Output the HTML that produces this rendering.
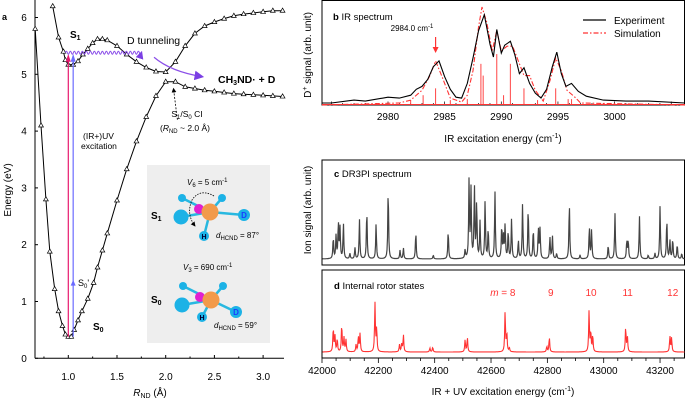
<!DOCTYPE html>
<html><head><meta charset="utf-8"><style>
body{margin:0;background:#fff}
svg{display:block;font-family:"Liberation Sans",Arial,sans-serif}
</style></head><body>
<svg id="fig" width="685" height="400" viewBox="0 0 685 400">
<defs>
<marker id="ahP" markerWidth="8" markerHeight="8" refX="6" refY="4" orient="auto"><path d="M0,0 L8,4 L0,8 z" fill="#7b3fe4"/></marker>
<marker id="ahK" markerWidth="6" markerHeight="6" refX="5" refY="3" orient="auto"><path d="M0,0 L6,3 L0,6 z" fill="#000"/></marker>
</defs>
<g id="pa"></g>
<g id="pb"></g>
<g id="pc"></g>
<g id="pd"></g>
</svg>
<script>
// ---- Panel a data ----
const s0R=[0.66,0.72,0.77,0.81,0.86,0.9,0.94,0.97,1.0,1.03,1.06,1.1,1.14,1.2,1.26,1.3,1.35,1.4,1.5,1.6,1.7,1.8,1.9,2.0,2.1,2.2,2.3,2.4,2.5,2.6,2.7,2.8,2.9,3.0,3.1,3.2];
const s0E=[5.8,4.1,2.8,1.88,1.22,0.83,0.57,0.42,0.38,0.38,0.5,0.67,0.83,1.05,1.33,1.6,1.9,2.2,2.78,3.33,3.82,4.25,4.62,4.87,4.87,4.78,4.75,4.72,4.7,4.68,4.66,4.65,4.64,4.63,4.62,4.61];
const s1R=[0.84,0.9,0.95,0.97,1.0,1.05,1.1,1.15,1.2,1.25,1.3,1.35,1.4,1.5,1.6,1.7,1.8,1.9,2.0,2.1,2.2,2.3,2.4,2.5,2.6,2.7,2.8,2.9,3.0,3.1,3.2];
const s1E=[6.2,5.65,5.4,5.25,5.17,5.17,5.23,5.35,5.45,5.55,5.62,5.62,5.6,5.5,5.35,5.22,5.12,5.05,5.04,5.22,5.5,5.72,5.85,5.92,5.98,6.03,6.06,6.08,6.1,6.12,6.12];
const aXTicks=[1.0,1.5,2.0,2.5,3.0];
const aYTicks=[0,1,2,3,4,5,6];
// ---- Panel b data ----
const expX=[2974.2,2975,2977,2978,2980,2981,2982,2982.5,2983,2983.5,2984,2984.5,2985,2985.5,2986,2986.5,2987,2987.5,2988,2988.5,2989,2989.3,2989.6,2990,2990.3,2990.8,2991.2,2991.6,2992,2992.5,2993,2993.5,2994,2994.5,2994.9,2995.3,2995.7,2996.2,2996.8,2997.5,2999,3001,3003,3006.2];
const expY=[0.02,0.02,0.05,0.04,0.08,0.07,0.1,0.16,0.19,0.26,0.39,0.45,0.29,0.16,0.08,0.07,0.22,0.48,0.76,0.92,0.62,0.49,0.77,0.53,0.61,0.65,0.51,0.32,0.38,0.22,0.12,0.07,0.16,0.39,0.54,0.32,0.19,0.22,0.14,0.09,0.05,0.04,0.04,0.02];
const simX=[2974.2,2981,2982,2983,2983.7,2984.2,2984.8,2985.5,2986.5,2987,2987.5,2988,2988.3,2988.7,2989.2,2989.6,2990,2990.5,2991,2991.5,2992,2992.5,2993,2993.7,2994.3,2994.8,2995.3,2995.8,2996.5,2997,3006.2];
const simY=[0,0.02,0.05,0.15,0.3,0.45,0.28,0.07,0.03,0.1,0.35,0.8,1.0,0.85,0.55,0.76,0.55,0.6,0.6,0.45,0.3,0.3,0.15,0.04,0.25,0.48,0.35,0.15,0.08,0.02,0];
const stickX=[2982,2983.1,2984.2,2985.5,2987,2988.2,2988.4,2989.6,2990.2,2990.8,2992,2993.2,2994.8,2995.9,2996.2,2999];
const stickY=[0.05,0.1,0.17,0.05,0.06,0.42,0.3,0.52,0.1,0.42,0.17,0.05,0.17,0.06,0.06,0.02];
const bXTicks=[2980,2985,2990,2995,3000];
// ---- Panel c data ----
const cPos=[42040,42050,42058,42064,42076,42099,42117,42133,42159,42192,42235,42277,42289,42333,42395,42448,42508,42522,42529,42541,42549,42561,42579,42590,42614,42638,42644,42650,42661,42673,42697,42712,42732,42750,42768,42774,42809,42818,42833,42878,42916,42949,42957,43016,43040,43082,43087,43127,43158,43182,43200,43224,43235,43245,43261,43277];
const cHt=[.28,.30,.47,.39,.45,.07,.14,.50,.64,.45,.92,.11,.14,.35,.05,.37,.11,.99,.87,.92,.73,.47,.75,.39,.85,.43,.28,.43,.36,.51,.24,.70,.67,.39,.40,.38,.28,.29,.07,.73,.05,.42,.37,.18,.58,.24,.24,.54,.05,.07,.67,.52,.24,.26,.19,.07];
// ---- Panel d data ----
const dPos=[42040,42046,42054,42070,42078,42085,42121,42129,42135,42188,42194,42275,42283,42289,42383,42393,42508,42516,42650,42656,42665,42798,42807,42948,42954,42961,43078,43084,43235,43241];
const dHt=[.51,.32,.27,.58,.29,.25,.15,.32,.37,1.0,.49,.15,.18,.35,.08,.10,.25,.30,.83,.39,.08,.12,.31,.83,.42,.35,.52,.32,.32,.29];
const mLabels=["8","9","10","11","12"];
const mPos=[42655,42812,42955,43085,43245];
const cdXTicks=[42000,42200,42400,42600,42800,43000,43200];

const NS="http://www.w3.org/2000/svg";
function mk(parent,tag,attrs,text){const e=document.createElementNS(NS,tag);for(const k in attrs)e.setAttribute(k,attrs[k]);if(text!==undefined)e.textContent=text;parent.appendChild(e);return e;}

// ===== Panel a =====
const pa=document.getElementById('pa');
const ax=r=>68.3+(r-1)*97.4, ay=e=>358.3-e*56.8;
let l=mk(pa,'line',{x1:35,y1:0,x2:35,y2:358.3,stroke:'#000','stroke-width':1});

l=mk(pa,'line',{x1:35,y1:358.3,x2:284,y2:358.3,stroke:'#000','stroke-width':1});

for(let r=0.75;r<=3.2;r+=0.25){const t=mk(pa,'line',{x1:ax(r),x2:ax(r),y1:358.3,y2:Math.abs(r*2-Math.round(r*2))<0.01?355:356.5,stroke:'#000'});}
aXTicks.forEach(v=>{const t=mk(pa,'text',{x:ax(v),y:380,'font-size':10,'text-anchor':'middle'},v.toFixed(1));});
aYTicks.forEach(v=>{mk(pa,'line',{x1:35,x2:38,y1:ay(v),y2:ay(v),stroke:'#000'});const t=mk(pa,'text',{x:24,y:ay(v)+3.5,'font-size':10,'text-anchor':'middle'},String(v));});
let t=mk(pa,'text',{x:11,y:190,'font-size':10,'text-anchor':'middle',transform:'rotate(-90 11 190)'},'Energy (eV)');
t=mk(pa,'text',{x:150,y:396,'font-size':10,'text-anchor':'middle'});t.innerHTML='<tspan font-style="italic">R</tspan><tspan font-size="7" dy="2">ND</tspan><tspan dy="-2"> (Å)</tspan>';
t=mk(pa,'text',{x:2,y:20,'font-size':9,'font-weight':'bold'},'a');
// inset box
let ib=mk(pa,'rect',{x:147,y:165,width:123,height:178,fill:'#eeeeee'});
function curve(R,E,name){const d=R.map((r,i)=>(i?'L':'M')+ax(r).toFixed(1)+','+ay(E[i]).toFixed(1)).join('');const p=mk(pa,'path',{d:d,fill:'none',stroke:'#000','stroke-width':1});
R.forEach((r,i)=>{const x=ax(r),y=ay(E[i]);const m=mk(pa,'path',{d:`M${x},${y-2.6}L${x+2.4},${y+1.6}L${x-2.4},${y+1.6}z`,fill:'#fff',stroke:'#000','stroke-width':0.7});});}
curve(s0R,s0E,'s0-curve');curve(s1R,s1E,'s1-curve');
// excitation arrows
l=mk(pa,'line',{x1:ax(1.0),x2:ax(1.0),y1:ay(0.38),y2:ay(5.3),stroke:'#e8186e','stroke-width':1.2});
mk(pa,'path',{d:`M${ax(1.0)-2.5},${ay(5.22)}L${ax(1.0)},${ay(5.36)}L${ax(1.0)+2.5},${ay(5.22)}z`,fill:'#e8186e'});
l=mk(pa,'line',{x1:ax(1.05),x2:ax(1.05),y1:ay(0.38),y2:ay(5.3),stroke:'#6b6bff','stroke-width':1.2});
mk(pa,'path',{d:`M${ax(1.05)-2.5},${ay(5.22)}L${ax(1.05)},${ay(5.36)}L${ax(1.05)+2.5},${ay(5.22)}z`,fill:'#6b6bff'});
mk(pa,'path',{d:`M${ax(1.05)-2.5},${ay(1.28)}L${ax(1.05)},${ay(1.38)}L${ax(1.05)+2.5},${ay(1.28)}z`,fill:'#6b6bff'});
// wavy tunneling
let wd='M'+ax(0.97)+','+ay(5.38);for(let x=ax(0.97);x<ax(1.72);x+=4){wd+=` q1,-3 2,0 q1,3 2,0`;}
l=mk(pa,'path',{d:wd,fill:'none',stroke:'#8b4fe8','stroke-width':1,'marker-end':'url(#ahP)'});
l=mk(pa,'path',{d:`M${ax(1.88)},${ay(5.3)} Q${ax(2.05)},${ay(5.05)} ${ax(2.37)},${ay(4.96)}`,fill:'none',stroke:'#8b4fe8','stroke-width':1.2,'marker-end':'url(#ahP)'});
l=mk(pa,'path',{d:`M${ax(2.12)},${ay(4.2)} L${ax(2.08)},${ay(4.75)}`,fill:'none',stroke:'#000','stroke-width':0.8,'stroke-dasharray':'2,1.5','marker-end':'url(#ahK)'});
function txt(p,x,y,html,name,extra){const e=mk(p,'text',Object.assign({x:x,y:y,'font-size':10},extra||{}));e.innerHTML=html;return e;}
txt(pa,70,38,'S<tspan font-size="7" dy="2">1</tspan>','s1-label',{'font-weight':'bold'});
txt(pa,127,44,'D tunneling','d-tunneling-label',{'font-size':10.5});
txt(pa,218,83,'CH<tspan font-size="7" dy="2">3</tspan><tspan dy="-2">ND· + D</tspan>','products-label',{'font-weight':'bold','font-size':10.5});
txt(pa,187,117,'S<tspan font-size="6" dy="2">1</tspan><tspan dy="-2">/S</tspan><tspan font-size="6" dy="2">0</tspan><tspan dy="-2"> CI</tspan>','ci-label',{'font-size':8.5,'text-anchor':'middle'});
txt(pa,185,131,'(<tspan font-style="italic">R</tspan><tspan font-size="6" dy="2">ND</tspan><tspan dy="-2"> ~ 2.0 Å)</tspan>','ci-distance-label',{'font-size':8.5,'text-anchor':'middle'});
txt(pa,83,139,'(IR+)UV','excitation-label-1',{'font-size':8.5});
txt(pa,81,149,'excitation','excitation-label-2',{'font-size':8.5});
txt(pa,78,286,"S<tspan font-size='6' dy='2'>0</tspan><tspan dy='-2'>'</tspan>",'s0-prime-label',{'font-size':9});
txt(pa,93,330,'S<tspan font-size="7" dy="2">0</tspan>','s0-label',{'font-weight':'bold'});
// inset molecules
txt(pa,187,185,'<tspan font-style="italic">V</tspan><tspan font-size="6" dy="2">6</tspan><tspan dy="-2"> = 5 cm</tspan><tspan font-size="6" dy="-3">-1</tspan>','v6-label',{'font-size':8});
txt(pa,151,219,'S<tspan font-size="7" dy="2">1</tspan>','inset-s1-label',{'font-weight':'bold'});
txt(pa,216,238,'<tspan font-style="italic">d</tspan><tspan font-size="6" dy="2">HCND</tspan><tspan dy="-2"> = 87°</tspan>','dihedral-s1-label',{'font-size':8});
txt(pa,183,270,'<tspan font-style="italic">V</tspan><tspan font-size="6" dy="2">3</tspan><tspan dy="-2"> = 690 cm</tspan><tspan font-size="6" dy="-3">-1</tspan>','v3-label',{'font-size':8});
txt(pa,151,303,'S<tspan font-size="7" dy="2">0</tspan>','inset-s0-label',{'font-weight':'bold'});
txt(pa,214,328,'<tspan font-style="italic">d</tspan><tspan font-size="6" dy="2">HCND</tspan><tspan dy="-2"> = 59°</tspan>','dihedral-s0-label',{'font-size':8});
function mol(cx,cy,hx,hy,dx,dy,name){const g=mk(pa,'g',{});
[[cx-29,cy+5],[cx-28,cy-14],[cx+12,cy-14],[hx,hy],[dx,dy]].forEach(p=>mk(g,'line',{x1:cx,y1:cy,x2:p[0],y2:p[1],stroke:'#28b8e0','stroke-width':2.5}));
mk(g,'circle',{cx:cx-11,cy:cy-3,r:5,fill:'#e020d0'});
mk(g,'circle',{cx:cx-29,cy:cy+5,r:7.5,fill:'#1cb2e6'});
mk(g,'circle',{cx:cx-28,cy:cy-14,r:4,fill:'#1cb2e6'});
mk(g,'circle',{cx:cx+12,cy:cy-14,r:4,fill:'#1cb2e6'});
mk(g,'circle',{cx:cx,cy:cy,r:8.5,fill:'#f29a4a'});
mk(g,'circle',{cx:hx,cy:hy,r:5,fill:'#1cb2e6'});
mk(g,'circle',{cx:dx,cy:dy,r:6,fill:'#1cb2e6'});
mk(g,'text',{x:hx,y:hy+3,'font-size':7,'font-weight':'bold','text-anchor':'middle',fill:'#003'},'H');
mk(g,'text',{x:dx,y:dy+3,'font-size':8,'font-weight':'bold','text-anchor':'middle',fill:'#1a3cff'},'D');}
mol(210,212,204,236,244,215,'molecule-s1');
mol(211,300,202,317,236,312,'molecule-s0');
l=mk(pa,'path',{d:'M214,196 Q200,188 192,200 Q186,214 195,226',fill:'none',stroke:'#000','stroke-width':0.8,'stroke-dasharray':'1.5,1.2','marker-end':'url(#ahK)'});

// ===== Panel b =====
const pb=document.getElementById('pb');
const bx=v=>388+(v-2980)*11.33, by=v=>105-v*98;
let fr=mk(pb,'rect',{x:322,y:0.5,width:362.5,height:104.5,fill:'none',stroke:'#000','stroke-width':1});
for(let v=2975;v<=3005;v++){mk(pb,'line',{x1:bx(v),x2:bx(v),y1:105,y2:v%5?103:101.5,stroke:'#000','stroke-width':0.7});}
bXTicks.forEach(v=>{const e=mk(pb,'text',{x:bx(v),y:120,'font-size':10,'text-anchor':'middle'},String(v));});
txt(pb,503,142,'IR excitation energy (cm<tspan font-size="7" dy="-4">-1</tspan><tspan dy="4">)</tspan>','b-x-axis-title',{'text-anchor':'middle'});
txt(pb,311,55,'D<tspan font-size="7" dy="-4">+</tspan><tspan dy="4"> signal (arb. unit)</tspan>','b-y-axis-title',{'text-anchor':'middle',transform:'rotate(-90 311 55)'});
txt(pb,333,20,'<tspan font-weight="bold">b</tspan>  IR spectrum','b-title',{'font-size':9.5});
stickX.forEach((v,i)=>{const e=mk(pb,'line',{x1:bx(v),x2:bx(v),y1:105,y2:by(stickY[i]),stroke:'#f44','stroke-width':1});});
let sp=mk(pb,'path',{d:simX.map((v,i)=>(i?'L':'M')+bx(v).toFixed(1)+','+by(simY[i]).toFixed(1)).join(''),fill:'none',stroke:'#f33','stroke-width':1.1,'stroke-dasharray':'5,2,1.5,2'});
let ep=mk(pb,'path',{d:expX.map((v,i)=>(i?'L':'M')+bx(v).toFixed(1)+','+by(expY[i]).toFixed(1)).join(''),fill:'none',stroke:'#000','stroke-width':1.1});
mk(pb,'line',{x1:322,x2:685,y1:104.5,y2:104.5,stroke:'#f33','stroke-width':1});
txt(pb,412,31,'2984.0 cm<tspan font-size="6" dy="-3">-1</tspan>','arrow-label',{'font-size':8,'text-anchor':'middle'});
l=mk(pb,'line',{x1:bx(2984.2),x2:bx(2984.2),y1:37,y2:50,stroke:'#f33','stroke-width':1.2});
mk(pb,'path',{d:`M${bx(2984.2)-3},47 L${bx(2984.2)},53 L${bx(2984.2)+3},47z`,fill:'#f33'});
l=mk(pb,'line',{x1:583,x2:606,y1:20,y2:20,stroke:'#000','stroke-width':1.2});
txt(pb,614,24,'Experiment','legend-experiment',{'font-size':10});
l=mk(pb,'line',{x1:583,x2:606,y1:33,y2:33,stroke:'#f33','stroke-width':1.2,'stroke-dasharray':'5,2,1.5,2'});
txt(pb,614,37,'Simulation','legend-simulation',{'font-size':10});

// ===== Panels c & d =====
const cx_=v=>322+(v-42000)*0.2817;
function spectrum(g,pos,ht,base,scale,color,name,gam,sw){let d='';for(let px=322.5;px<685;px+=0.5){const w=42000+(px-322)/0.2817;let s=0;for(let i=0;i<pos.length;i++){const q=(w-pos[i])/gam;s+=ht[i]/(1+q*q);}d+=(d?'L':'M')+px.toFixed(1)+','+(base-Math.min(s,1.05)*scale).toFixed(1);}
const p=mk(g,'path',{d:d,fill:'none',stroke:color,'stroke-width':sw});}
const pc=document.getElementById('pc');
fr=mk(pc,'rect',{x:322,y:160,width:362.5,height:105,fill:'none',stroke:'#000','stroke-width':1});
spectrum(pc,cPos,cHt,259,79,'#444','dr3pi-line',1.6,1.2);
txt(pc,334,177,'<tspan font-weight="bold">c</tspan>  DR3PI spectrum','c-title',{'font-size':9.5});
txt(pc,311,210,'Ion signal (arb. unit)','c-y-axis-title',{'text-anchor':'middle',transform:'rotate(-90 311 210)'});
const pd=document.getElementById('pd');
fr=mk(pd,'rect',{x:322,y:270,width:362.5,height:88,fill:'none',stroke:'#000','stroke-width':1});
spectrum(pd,dPos,dHt,352,49,'#f33','rotor-states-line',1.6,1.1);
txt(pd,334,289,'<tspan font-weight="bold">d</tspan>  Internal rotor states','d-title',{'font-size':9.5});
mLabels.forEach((m,i)=>{const e=mk(pd,'text',{x:cx_(mPos[i]),y:296,'font-size':10,fill:'#f33','text-anchor':i?'middle':'end'});e.innerHTML=i?m:'<tspan font-style="italic">m</tspan> = '+m;if(!i)e.setAttribute('x',cx_(mPos[i])+9);});
for(let v=42000;v<=43280;v+=50){mk(pd,'line',{x1:cx_(v),x2:cx_(v),y1:358,y2:v%200?361:363,stroke:'#000','stroke-width':0.8});}
cdXTicks.forEach(v=>{const e=mk(pd,'text',{x:cx_(v),y:374,'font-size':10,'text-anchor':'middle'},String(v));});
txt(pd,503,395,'IR + UV excitation energy (cm<tspan font-size="7" dy="-4">-1</tspan><tspan dy="4">)</tspan>','cd-x-axis-title',{'text-anchor':'middle'});
</script>
</body></html>
